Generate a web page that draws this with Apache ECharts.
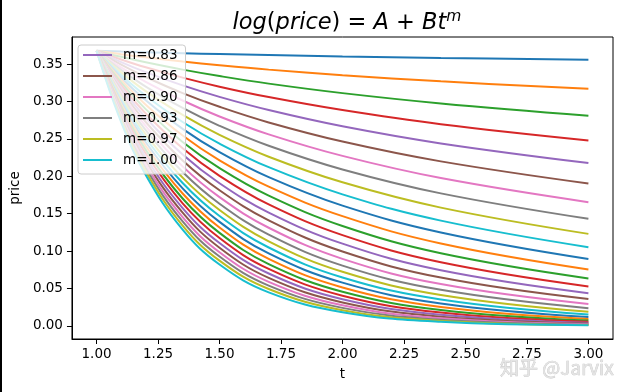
<!DOCTYPE html>
<html>
<head>
<meta charset="utf-8">
<script src="https://cdn.jsdelivr.net/npm/echarts@6/dist/echarts.min.js"></script>
<style>
html,body{margin:0;padding:0;background:#fff;}
#chart{width:623px;height:392px;}
</style>
</head>
<body>
<div id="chart"></div>
<script>
// sample positions along t
const tValues = [1, 1.1, 1.2, 1.35, 1.5, 1.7, 2, 2.4, 3];
// exponent m of each curve (legend shows the last six)
const mValues = [0.01,0.04,0.08,0.11,0.15,0.18,0.21,0.25,0.28,0.32,0.35,0.39,0.42,0.45,0.49,0.52,0.56,0.59,0.62,0.66,0.69,0.73,0.76,0.80,0.83,0.86,0.90,0.93,0.97,1.00];
const legendNames = ['m=0.83','m=0.86','m=0.90','m=0.93','m=0.97','m=1.00'];
const xTicks = [1.00,1.25,1.50,1.75,2.00,2.25,2.50,2.75,3.00];
const yTicks = [0.00,0.05,0.10,0.15,0.20,0.25,0.30,0.35];

// price values at tValues, one array per curve
const curve00 = [0.3679,0.3668,0.3659,0.3646,0.3634,0.3621,0.3603,0.3583,0.3559];
const curve01 = [0.3679,0.3633,0.3591,0.3535,0.3485,0.3426,0.3351,0.3269,0.3169];
const curve02 = [0.3679,0.3597,0.3524,0.3426,0.3340,0.3239,0.3112,0.2974,0.2810];
const curve03 = [0.3679,0.3562,0.3457,0.3319,0.3198,0.3059,0.2885,0.2697,0.2480];
const curve04 = [0.3679,0.3527,0.3392,0.3215,0.3062,0.2886,0.2669,0.2440,0.2178];
const curve05 = [0.3679,0.3492,0.3327,0.3112,0.2929,0.2720,0.2465,0.2200,0.1904];
const curve06 = [0.3679,0.3457,0.3263,0.3013,0.2800,0.2561,0.2273,0.1977,0.1655];
const curve07 = [0.3679,0.3423,0.3200,0.2915,0.2675,0.2408,0.2091,0.1772,0.1432];
const curve08 = [0.3679,0.3389,0.3138,0.2820,0.2554,0.2262,0.1920,0.1582,0.1231];
const curve09 = [0.3679,0.3355,0.3077,0.2726,0.2437,0.2122,0.1759,0.1408,0.1053];
const curve10 = [0.3679,0.3321,0.3017,0.2635,0.2324,0.1989,0.1608,0.1249,0.0895];
const curve11 = [0.3679,0.3288,0.2957,0.2546,0.2214,0.1862,0.1468,0.1103,0.0756];
const curve12 = [0.3679,0.3255,0.2898,0.2459,0.2109,0.1741,0.1336,0.0971,0.0635];
const curve13 = [0.3679,0.3222,0.2840,0.2375,0.2007,0.1625,0.1214,0.0852,0.0529];
const curve14 = [0.3679,0.3189,0.2783,0.2292,0.1908,0.1516,0.1100,0.0744,0.0438];
const curve15 = [0.3679,0.3157,0.2726,0.2212,0.1814,0.1412,0.0995,0.0647,0.0360];
const curve16 = [0.3679,0.3124,0.2671,0.2133,0.1722,0.1313,0.0897,0.0560,0.0294];
const curve17 = [0.3679,0.3092,0.2616,0.2057,0.1634,0.1220,0.0807,0.0483,0.0238];
const curve18 = [0.3679,0.3061,0.2562,0.1982,0.1550,0.1132,0.0724,0.0415,0.0191];
const curve19 = [0.3679,0.3029,0.2509,0.1910,0.1469,0.1049,0.0648,0.0354,0.0152];
const curve20 = [0.3679,0.2998,0.2456,0.1839,0.1391,0.0970,0.0579,0.0301,0.0120];
const curve21 = [0.3679,0.2966,0.2405,0.1771,0.1316,0.0896,0.0515,0.0255,0.0094];
const curve22 = [0.3679,0.2936,0.2354,0.1704,0.1244,0.0827,0.0458,0.0215,0.0073];
const curve23 = [0.3679,0.2905,0.2304,0.1639,0.1175,0.0762,0.0405,0.0180,0.0056];
const curve24 = [0.3679,0.2874,0.2254,0.1576,0.1109,0.0701,0.0358,0.0150,0.0042];
const curve25 = [0.3679,0.2844,0.2206,0.1515,0.1046,0.0643,0.0315,0.0124,0.0032];
const curve26 = [0.3679,0.2814,0.2158,0.1455,0.0986,0.0590,0.0276,0.0102,0.0024];
const curve27 = [0.3679,0.2784,0.2111,0.1398,0.0928,0.0540,0.0242,0.0084,0.0017];
const curve28 = [0.3679,0.2755,0.2065,0.1342,0.0873,0.0494,0.0211,0.0068,0.0013];
const curve29 = [0.3679,0.2725,0.2019,0.1287,0.0821,0.0450,0.0183,0.0055,0.0009];

const curves = [curve00,curve01,curve02,curve03,curve04,curve05,curve06,curve07,curve08,curve09,
  curve10,curve11,curve12,curve13,curve14,curve15,curve16,curve17,curve18,curve19,
  curve20,curve21,curve22,curve23,curve24,curve25,curve26,curve27,curve28,curve29];

const palette = ['#1f77b4','#ff7f0e','#2ca02c','#d62728','#9467bd','#8c564b','#e377c2','#7f7f7f','#bcbd22','#17becf'];
const FONT = 'DejaVu Sans';

const series = curves.map((vals, i) => ({
  name: 'm=' + mValues[i].toFixed(2),
  type: 'line',
  data: tValues.map((t, k) => [t, vals[k]]),
  showSymbol: false,
  symbol: 'none',
  smooth: 0.4,
  silent: true,
  animation: false,
  lineStyle: { width: 2, color: palette[i % 10] },
  itemStyle: { color: palette[i % 10] }
}));

const chart = echarts.init(document.getElementById('chart'), null, { renderer: 'canvas' });
chart.setOption({
  backgroundColor: '#ffffff',
  animation: false,
  textStyle: { fontFamily: FONT },
  title: {
    text: '{i|log}{n|(}{i|price}{n|) = }{i|A}{n| + }{i|Bt}{s|m}',
    left: 342,
    textAlign: 'center',
    top: 4,
    textStyle: {
      fontWeight: 'normal',
      rich: {
        i: { fontFamily: FONT, fontStyle: 'italic', fontWeight: 'normal', fontSize: 22.5, color: '#000' },
        n: { fontFamily: FONT, fontWeight: 'normal', fontSize: 22.5, color: '#000' },
        s: { fontFamily: FONT, fontStyle: 'italic', fontWeight: 'normal', fontSize: 15.5, color: '#000', padding: [0, 0, 12, 0] }
      }
    }
  },
  legend: {
    data: legendNames,
    orient: 'vertical',
    left: 78,
    top: 45,
    icon: 'rect',
    itemWidth: 29,
    itemHeight: 2,
    itemGap: 5,
    padding: [2, 8, 6, 5],
    backgroundColor: 'rgba(255,255,255,0.8)',
    borderColor: '#cccccc',
    borderWidth: 1,
    borderRadius: 3,
    selectedMode: false,
    textStyle: { fontFamily: FONT, fontSize: 13.5, color: '#000', lineHeight: 16, padding: [0, 0, 0, 6] }
  },
  grid: {
    left: 71, right: 10, top: 37, bottom: 53,
    show: true, borderColor: '#000', borderWidth: 1, backgroundColor: 'transparent'
  },
  xAxis: {
    type: 'value',
    min: 0.9, max: 3.1,
    name: 't',
    nameLocation: 'middle',
    nameGap: 28,
    nameTextStyle: { fontFamily: FONT, fontSize: 13.5, color: '#000' },
    axisLine: { show: true, onZero: false, lineStyle: { color: '#000', width: 1 } },
    axisTick: { show: true, length: 5, lineStyle: { color: '#000' }, customValues: xTicks },
    axisLabel: { customValues: xTicks, formatter: v => v.toFixed(2), fontFamily: FONT, fontSize: 13.5, color: '#000', margin: 8 },
    splitLine: { show: false }
  },
  yAxis: {
    type: 'value',
    min: -0.0174, max: 0.3862,
    name: 'price',
    nameLocation: 'middle',
    nameGap: 46,
    nameTextStyle: { fontFamily: FONT, fontSize: 13.5, color: '#000' },
    axisLine: { show: true, onZero: false, lineStyle: { color: '#000', width: 1 } },
    axisTick: { show: true, length: 5, lineStyle: { color: '#000' }, customValues: yTicks },
    axisLabel: { customValues: yTicks, formatter: v => v.toFixed(2), fontFamily: FONT, fontSize: 13.5, color: '#000', margin: 9 },
    splitLine: { show: false }
  },
  graphic: [
    { type: 'rect', left: 0, top: 0, shape: { width: 2, height: 392 }, style: { fill: '#000' }, silent: true },
    { type: 'text', right: 9, top: 358, silent: true,
      style: { text: '知乎 @Jarvix', font: '19px "Noto Sans CJK SC", "DejaVu Sans", sans-serif', fill: '#e4e4e4', stroke: '#c6c6c6', lineWidth: 0.7 } }
  ],
  series: series
});
</script>
</body>
</html>
